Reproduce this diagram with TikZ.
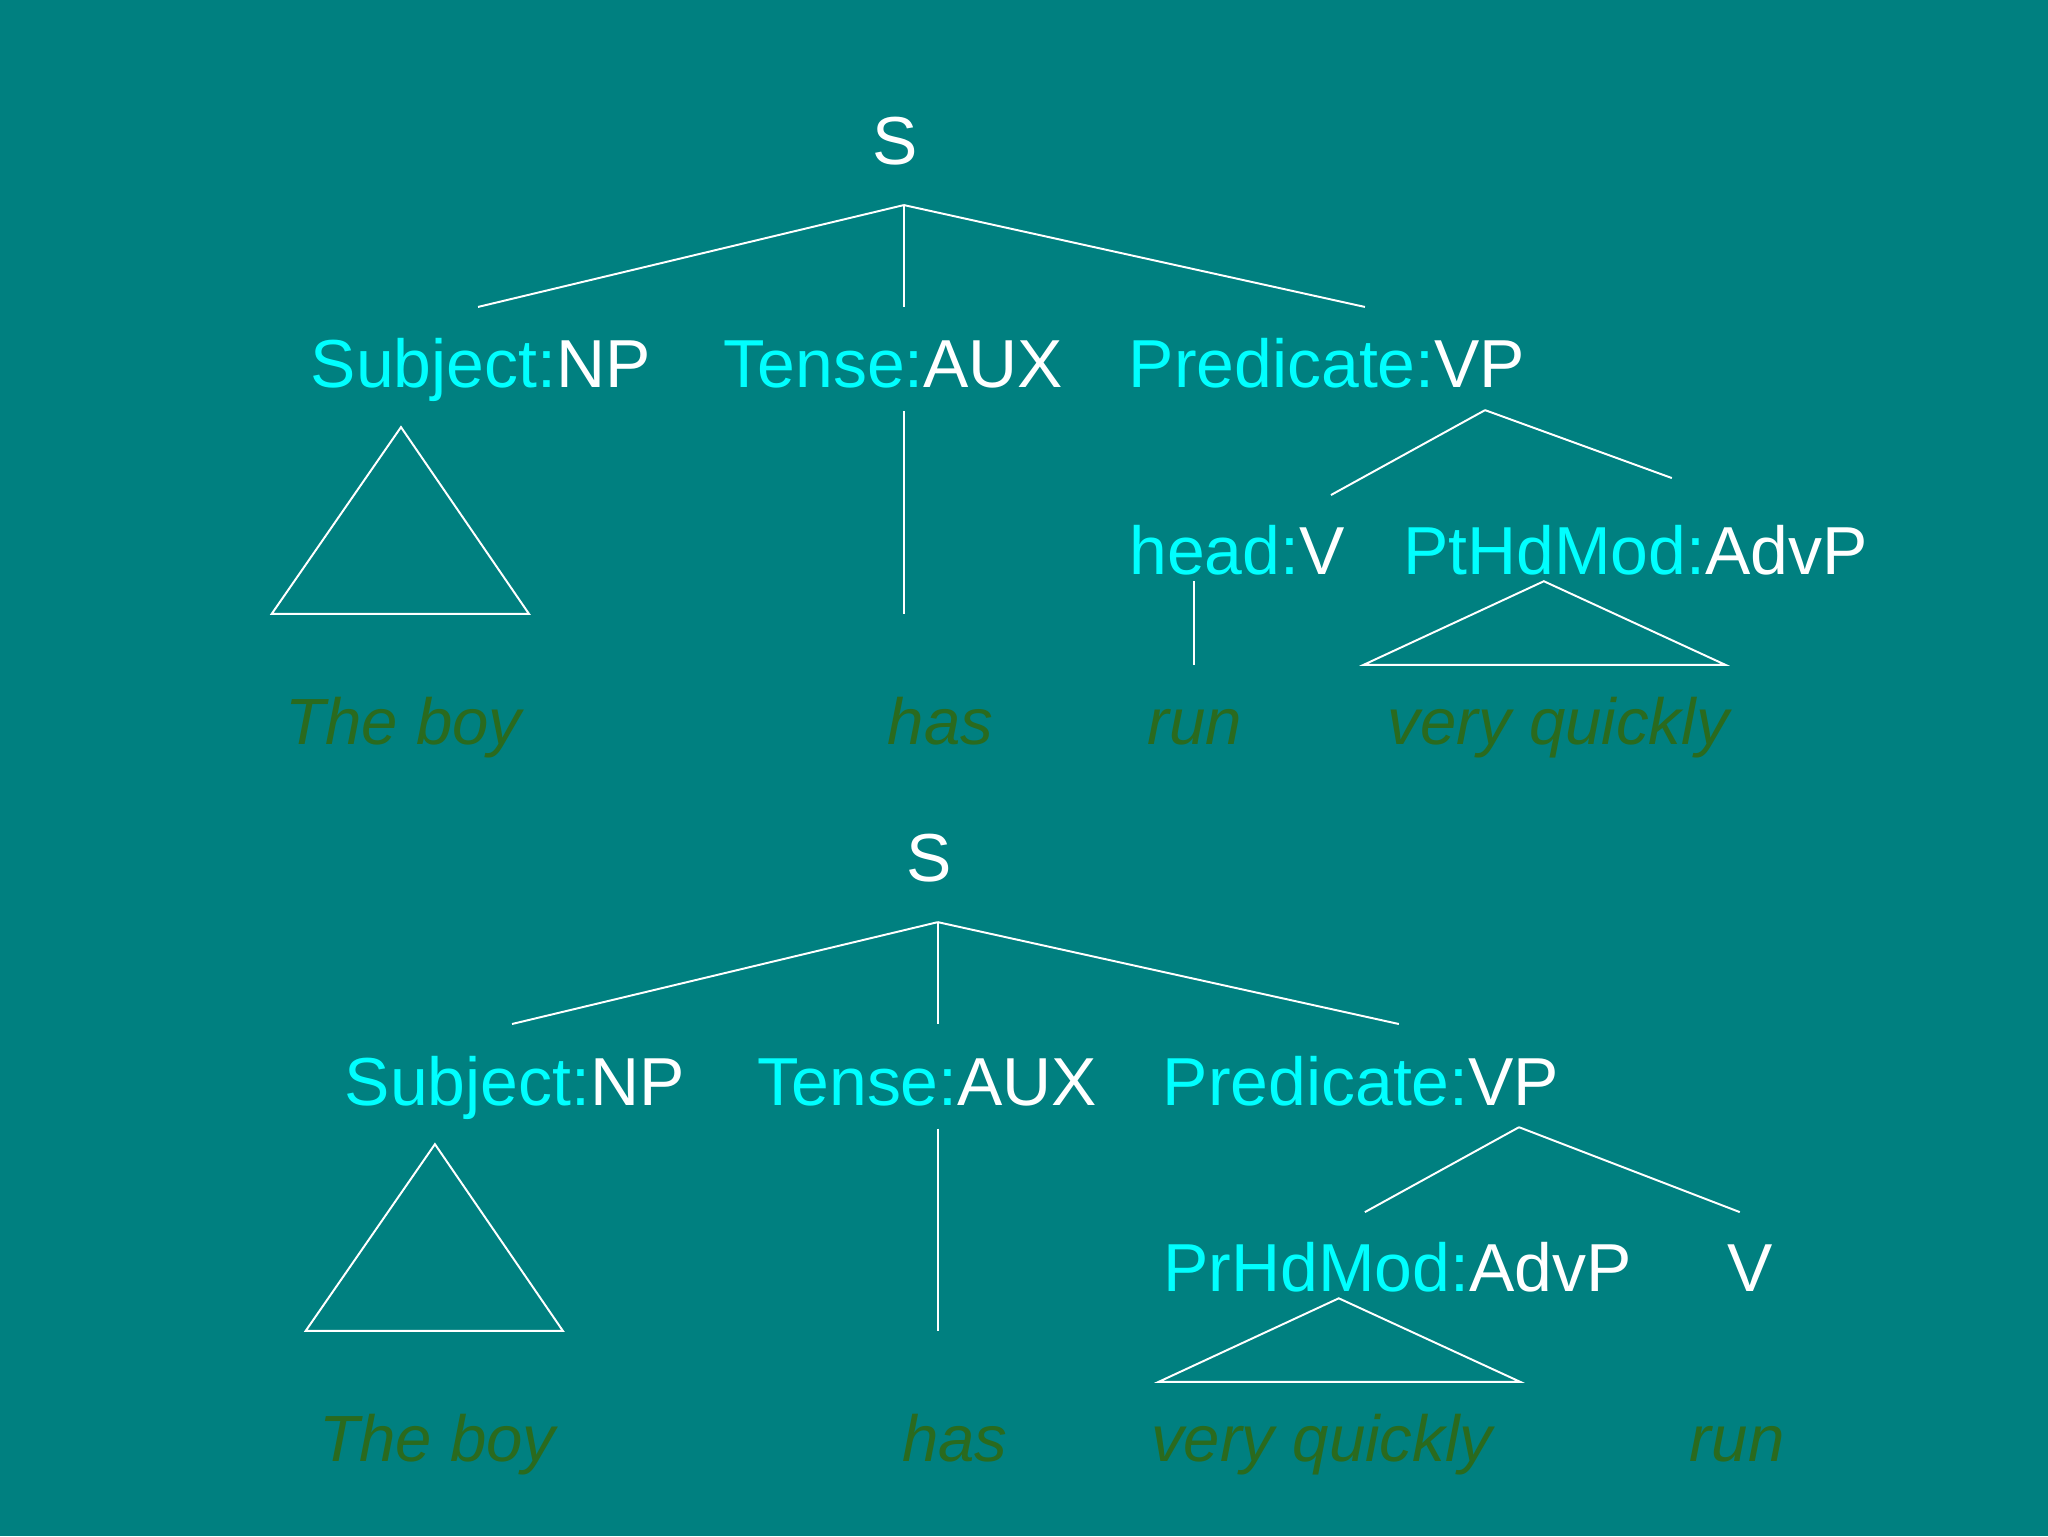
\documentclass[tikz,border=0pt]{standalone}
\usepackage{fontspec}
\setmainfont{Liberation Sans}
\definecolor{bg}{HTML}{008080}
\definecolor{cy}{HTML}{00FFFF}
\definecolor{gr}{HTML}{2A6A1E}
\begin{document}
\begin{tikzpicture}[x=1pt,y=-1pt,
 lab/.style={anchor=base,inner sep=0pt,font=\fontsize{52}{60}\selectfont,text=white},
 wd/.style={anchor=base,inner sep=0pt,font=\fontsize{50}{60}\selectfont\itshape,text=gr},
 ln/.style={draw=white,line width=1.5pt}]
\fill[bg] (0,0) rectangle (1568,1176);
\useasboundingbox (0,0) rectangle (1568,1176);
% tree 1
\node[lab] (s1) at (685,126) {S};
\node[lab] (np1) at (368,297) {\textcolor{cy}{Subject:}NP};
\node[lab] (aux1) at (684,297) {\textcolor{cy}{Tense:}AUX};
\node[lab] (vp1) at (1016,297) {\textcolor{cy}{Predicate:}VP};
\node[lab] (v1) at (947,440) {\textcolor{cy}{head:}V};
\node[lab] (adv1) at (1252,440) {\textcolor{cy}{PtHdMod:}AdvP};
\node[wd] (w1a) at (309,570) {The boy};
\node[wd] (w1b) at (720,570) {has};
\node[wd] (w1c) at (915,570) {run};
\node[wd] (w1d) at (1193,570) {very quickly};
\coordinate (s1b) at (692,157);
\draw[ln] (s1b) -- (366,235); \draw[ln] (s1b) -- (692,235); \draw[ln] (s1b) -- (1045,235);
\draw[ln] (307,327) -- (208,470) -- (405,470) -- cycle;
\draw[ln] (692,315) -- (692,470);
\coordinate (vp1b) at (1137,314);
\draw[ln] (vp1b) -- (1019,379); \draw[ln] (vp1b) -- (1280,366);
\draw[ln] (914,445) -- (914,509);
\draw[ln] (1182,445) -- (1044,509) -- (1321,509) -- cycle;
% tree 2
\node[lab] (s2) at (711,675) {S};
\node[lab] (np2) at (394,846) {\textcolor{cy}{Subject:}NP};
\node[lab] (aux2) at (710,846) {\textcolor{cy}{Tense:}AUX};
\node[lab] (vp2) at (1042,846) {\textcolor{cy}{Predicate:}VP};
\node[lab] (adv2) at (1070,989) {\textcolor{cy}{PrHdMod:}AdvP};
\node[lab] (v2) at (1340,989) {V};
\node[wd] (w2a) at (335,1119) {The boy};
\node[wd] (w2b) at (731,1119) {has};
\node[wd] (w2c) at (1012,1119) {very quickly};
\node[wd] (w2d) at (1330,1119) {run};
\coordinate (s2b) at (718,706);
\draw[ln] (s2b) -- (392,784); \draw[ln] (s2b) -- (718,784); \draw[ln] (s2b) -- (1071,784);
\draw[ln] (333,876) -- (234,1019) -- (431,1019) -- cycle;
\draw[ln] (718,864) -- (718,1019);
\coordinate (vp2b) at (1163,863);
\draw[ln] (vp2b) -- (1045,928); \draw[ln] (vp2b) -- (1332,928);
\draw[ln] (1025,994) -- (887,1058) -- (1164,1058) -- cycle;
\end{tikzpicture}
\end{document}
